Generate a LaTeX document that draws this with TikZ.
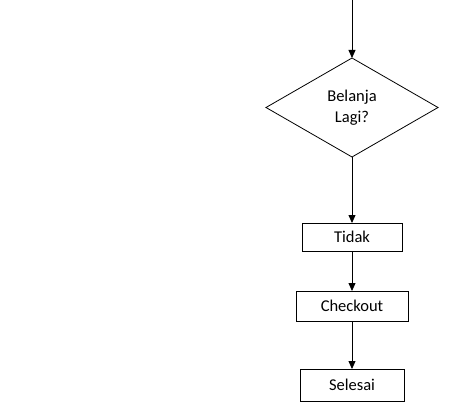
\documentclass[tikz,border=0pt]{standalone}
\usepackage{fontspec}
\setmainfont{Carlito}
\usetikzlibrary{positioning,arrows.meta,shapes.geometric}

\begin{document}
\begin{tikzpicture}[
        x=1pt, y=1pt,
        every node/.style={font=\fontsize{16.5}{21}\selectfont, outer sep=0pt},
        decision/.style={draw, diamond, minimum width=172pt, minimum height=99pt, inner sep=0pt, align=center, line width=0.8pt},
        stepbox/.style={draw, rectangle, minimum height=28pt, line width=0.8pt},
        arrow/.style={-{Triangle[length=8pt, width=7pt]}, line width=0.8pt}
    ]
        \useasboundingbox (0,0) rectangle (474,-409);

        % Incoming line from above
        \coordinate (start) at (352,0);

        % Decision
        \node[decision, below=58pt of start] (lagi) {Belanja\\Lagi?};

        % Steps
        \node[stepbox, minimum width=100pt, below=66pt of lagi] (tidak) {Tidak};
        \node[stepbox, minimum width=112pt, minimum height=30pt, below=40pt of tidak] (checkout) {Checkout};
        \node[stepbox, minimum width=104pt, minimum height=32pt, below=48pt of checkout] (selesai) {Selesai};

        % Arrows
        \draw[arrow] (start) -- (lagi.north);
        \draw[arrow] (lagi.south) -- (tidak.north);
        \draw[arrow] (tidak.south) -- (checkout.north);
        \draw[arrow] (checkout.south) -- (selesai.north);

    \end{tikzpicture}
\end{document}
